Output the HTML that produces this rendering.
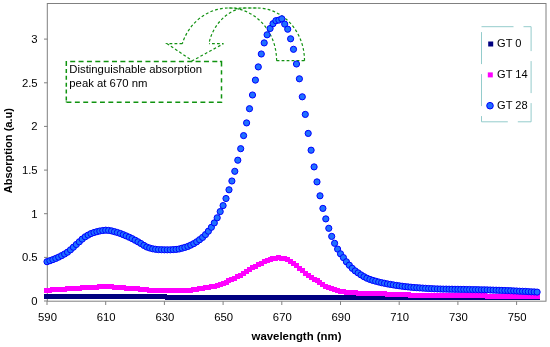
<!DOCTYPE html>
<html><head><meta charset="utf-8"><title>Absorption spectra</title>
<style>
html,body{margin:0;padding:0;background:#fff;}
svg{display:block;font-family:"Liberation Sans",Arial,sans-serif;font-size:11.3px;fill:#000;}
</style></head><body>
<svg width="550" height="347" viewBox="0 0 550 347">
<rect width="550" height="347" fill="#fff"/>
<rect x="47.3" y="3.5" width="498.7" height="297.7" fill="#fff" stroke="#808080" stroke-width="1"/>
<g stroke="#808080" stroke-width="1"><line x1="44" x2="47.5" y1="301.0" y2="301.0"/><line x1="44" x2="47.5" y1="257.4" y2="257.4"/><line x1="44" x2="47.5" y1="213.7" y2="213.7"/><line x1="44" x2="47.5" y1="170.1" y2="170.1"/><line x1="44" x2="47.5" y1="126.4" y2="126.4"/><line x1="44" x2="47.5" y1="82.8" y2="82.8"/><line x1="44" x2="47.5" y1="39.1" y2="39.1"/><line x1="47.0" x2="47.0" y1="301.2" y2="305"/><line x1="105.7" x2="105.7" y1="301.2" y2="305"/><line x1="164.4" x2="164.4" y1="301.2" y2="305"/><line x1="223.1" x2="223.1" y1="301.2" y2="305"/><line x1="281.8" x2="281.8" y1="301.2" y2="305"/><line x1="340.5" x2="340.5" y1="301.2" y2="305"/><line x1="399.2" x2="399.2" y1="301.2" y2="305"/><line x1="457.9" x2="457.9" y1="301.2" y2="305"/><line x1="516.6" x2="516.6" y1="301.2" y2="305"/></g>
<g><text x="37.6" y="305.0" text-anchor="end">0</text><text x="37.6" y="261.4" text-anchor="end">0.5</text><text x="37.6" y="217.7" text-anchor="end">1</text><text x="37.6" y="174.1" text-anchor="end">1.5</text><text x="37.6" y="130.4" text-anchor="end">2</text><text x="37.6" y="86.8" text-anchor="end">2.5</text><text x="37.6" y="43.1" text-anchor="end">3</text><text x="47.5" y="321" text-anchor="middle">590</text><text x="106.2" y="321" text-anchor="middle">610</text><text x="164.9" y="321" text-anchor="middle">630</text><text x="223.6" y="321" text-anchor="middle">650</text><text x="282.3" y="321" text-anchor="middle">670</text><text x="341.0" y="321" text-anchor="middle">690</text><text x="399.7" y="321" text-anchor="middle">710</text><text x="458.4" y="321" text-anchor="middle">730</text><text x="517.1" y="321" text-anchor="middle">750</text></g>
<text x="296.5" y="340.2" text-anchor="middle" font-weight="bold" font-size="11.4px">wavelength (nm)</text>
<text transform="translate(12.3,150.7) rotate(-90)" text-anchor="middle" font-weight="bold" font-size="11.05px">Absorption (a.u)</text>
<g fill="#000080"><rect x="44" y="294.0" width="5" height="5"/><rect x="47" y="294.0" width="5" height="5"/><rect x="50" y="294.0" width="5" height="5"/><rect x="53" y="294.0" width="5" height="5"/><rect x="56" y="294.0" width="5" height="5"/><rect x="59" y="294.0" width="5" height="5"/><rect x="62" y="294.0" width="5" height="5"/><rect x="65" y="294.0" width="5" height="5"/><rect x="68" y="294.0" width="5" height="5"/><rect x="71" y="294.0" width="5" height="5"/><rect x="74" y="294.0" width="5" height="5"/><rect x="77" y="294.0" width="5" height="5"/><rect x="80" y="294.0" width="5" height="5"/><rect x="83" y="294.0" width="5" height="5"/><rect x="86" y="294.0" width="5" height="5"/><rect x="89" y="294.0" width="5" height="5"/><rect x="91" y="294.0" width="5" height="5"/><rect x="94" y="294.0" width="5" height="5"/><rect x="97" y="294.0" width="5" height="5"/><rect x="100" y="294.0" width="5" height="5"/><rect x="103" y="294.0" width="5" height="5"/><rect x="106" y="294.0" width="5" height="5"/><rect x="109" y="294.0" width="5" height="5"/><rect x="112" y="294.0" width="5" height="5"/><rect x="115" y="294.0" width="5" height="5"/><rect x="118" y="294.0" width="5" height="5"/><rect x="121" y="294.0" width="5" height="5"/><rect x="124" y="294.0" width="5" height="5"/><rect x="127" y="294.0" width="5" height="5"/><rect x="130" y="294.0" width="5" height="5"/><rect x="133" y="294.0" width="5" height="5"/><rect x="135" y="294.0" width="5" height="5"/><rect x="138" y="294.0" width="5" height="5"/><rect x="141" y="294.0" width="5" height="5"/><rect x="144" y="294.0" width="5" height="5"/><rect x="147" y="294.0" width="5" height="5"/><rect x="150" y="294.0" width="5" height="5"/><rect x="153" y="294.0" width="5" height="5"/><rect x="156" y="294.0" width="5" height="5"/><rect x="159" y="294.0" width="5" height="5"/><rect x="162" y="294.0" width="5" height="5"/><rect x="165" y="295.0" width="5" height="5"/><rect x="168" y="295.0" width="5" height="5"/><rect x="171" y="295.0" width="5" height="5"/><rect x="174" y="295.0" width="5" height="5"/><rect x="177" y="295.0" width="5" height="5"/><rect x="180" y="295.0" width="5" height="5"/><rect x="182" y="295.0" width="5" height="5"/><rect x="185" y="295.0" width="5" height="5"/><rect x="188" y="295.0" width="5" height="5"/><rect x="191" y="295.0" width="5" height="5"/><rect x="194" y="295.0" width="5" height="5"/><rect x="197" y="295.0" width="5" height="5"/><rect x="200" y="295.0" width="5" height="5"/><rect x="203" y="295.0" width="5" height="5"/><rect x="206" y="295.0" width="5" height="5"/><rect x="209" y="295.0" width="5" height="5"/><rect x="212" y="295.0" width="5" height="5"/><rect x="215" y="295.0" width="5" height="5"/><rect x="218" y="295.0" width="5" height="5"/><rect x="221" y="295.0" width="5" height="5"/><rect x="224" y="295.0" width="5" height="5"/><rect x="226" y="295.0" width="5" height="5"/><rect x="229" y="295.0" width="5" height="5"/><rect x="232" y="295.0" width="5" height="5"/><rect x="235" y="295.0" width="5" height="5"/><rect x="238" y="295.0" width="5" height="5"/><rect x="241" y="295.0" width="5" height="5"/><rect x="244" y="295.0" width="5" height="5"/><rect x="247" y="295.0" width="5" height="5"/><rect x="250" y="295.0" width="5" height="5"/><rect x="253" y="295.0" width="5" height="5"/><rect x="256" y="295.0" width="5" height="5"/><rect x="259" y="295.0" width="5" height="5"/><rect x="262" y="295.0" width="5" height="5"/><rect x="265" y="295.0" width="5" height="5"/><rect x="268" y="295.0" width="5" height="5"/><rect x="270" y="295.0" width="5" height="5"/><rect x="273" y="295.0" width="5" height="5"/><rect x="276" y="295.0" width="5" height="5"/><rect x="279" y="295.0" width="5" height="5"/><rect x="282" y="295.0" width="5" height="5"/><rect x="285" y="295.0" width="5" height="5"/><rect x="288" y="295.0" width="5" height="5"/><rect x="291" y="295.0" width="5" height="5"/><rect x="294" y="295.0" width="5" height="5"/><rect x="297" y="295.0" width="5" height="5"/><rect x="300" y="295.0" width="5" height="5"/><rect x="303" y="295.0" width="5" height="5"/><rect x="306" y="295.0" width="5" height="5"/><rect x="309" y="295.0" width="5" height="5"/><rect x="312" y="295.0" width="5" height="5"/><rect x="315" y="295.0" width="5" height="5"/><rect x="317" y="295.0" width="5" height="5"/><rect x="320" y="295.0" width="5" height="5"/><rect x="323" y="295.0" width="5" height="5"/><rect x="326" y="295.0" width="5" height="5"/><rect x="329" y="295.0" width="5" height="5"/><rect x="332" y="295.0" width="5" height="5"/><rect x="335" y="295.0" width="5" height="5"/><rect x="338" y="295.0" width="5" height="5"/><rect x="341" y="295.0" width="5" height="5"/><rect x="344" y="295.0" width="5" height="5"/><rect x="347" y="295.0" width="5" height="5"/><rect x="350" y="295.0" width="5" height="5"/><rect x="353" y="295.0" width="5" height="5"/><rect x="356" y="295.0" width="5" height="5"/><rect x="359" y="295.0" width="5" height="5"/><rect x="361" y="295.0" width="5" height="5"/><rect x="364" y="295.0" width="5" height="5"/><rect x="367" y="295.0" width="5" height="5"/><rect x="370" y="295.0" width="5" height="5"/><rect x="373" y="295.0" width="5" height="5"/><rect x="376" y="295.0" width="5" height="5"/><rect x="379" y="295.0" width="5" height="5"/><rect x="382" y="295.0" width="5" height="5"/><rect x="385" y="295.0" width="5" height="5"/><rect x="388" y="295.0" width="5" height="5"/><rect x="391" y="295.0" width="5" height="5"/><rect x="394" y="295.0" width="5" height="5"/><rect x="397" y="295.0" width="5" height="5"/><rect x="400" y="295.0" width="5" height="5"/><rect x="403" y="295.0" width="5" height="5"/><rect x="406" y="295.0" width="5" height="5"/><rect x="408" y="295.0" width="5" height="5"/><rect x="411" y="295.0" width="5" height="5"/><rect x="414" y="295.0" width="5" height="5"/><rect x="417" y="295.0" width="5" height="5"/><rect x="420" y="295.0" width="5" height="5"/><rect x="423" y="295.0" width="5" height="5"/><rect x="426" y="295.0" width="5" height="5"/><rect x="429" y="295.0" width="5" height="5"/><rect x="432" y="295.0" width="5" height="5"/><rect x="435" y="295.0" width="5" height="5"/><rect x="438" y="295.0" width="5" height="5"/><rect x="441" y="295.0" width="5" height="5"/><rect x="444" y="295.0" width="5" height="5"/><rect x="447" y="295.0" width="5" height="5"/><rect x="450" y="295.0" width="5" height="5"/><rect x="452" y="295.0" width="5" height="5"/><rect x="455" y="295.0" width="5" height="5"/><rect x="458" y="295.0" width="5" height="5"/><rect x="461" y="295.0" width="5" height="5"/><rect x="464" y="295.0" width="5" height="5"/><rect x="467" y="295.0" width="5" height="5"/><rect x="470" y="295.0" width="5" height="5"/><rect x="473" y="295.0" width="5" height="5"/><rect x="476" y="295.0" width="5" height="5"/><rect x="479" y="295.0" width="5" height="5"/><rect x="482" y="295.0" width="5" height="5"/><rect x="485" y="295.0" width="5" height="5"/><rect x="488" y="295.0" width="5" height="5"/><rect x="491" y="295.0" width="5" height="5"/><rect x="494" y="295.0" width="5" height="5"/><rect x="496" y="295.0" width="5" height="5"/><rect x="499" y="295.0" width="5" height="5"/><rect x="502" y="295.0" width="5" height="5"/><rect x="505" y="295.0" width="5" height="5"/><rect x="508" y="295.0" width="5" height="5"/><rect x="511" y="295.0" width="5" height="5"/><rect x="514" y="295.0" width="5" height="5"/><rect x="517" y="295.0" width="5" height="5"/><rect x="520" y="295.0" width="5" height="5"/><rect x="523" y="295.0" width="5" height="5"/><rect x="526" y="295.0" width="5" height="5"/><rect x="529" y="295.0" width="5" height="5"/><rect x="532" y="295.0" width="5" height="5"/><rect x="535" y="295.0" width="5" height="5"/></g>
<g fill="#ff00ff"><rect x="44" y="288" width="5" height="5"/><rect x="47" y="288" width="5" height="5"/><rect x="50" y="287" width="5" height="5"/><rect x="53" y="287" width="5" height="5"/><rect x="56" y="287" width="5" height="5"/><rect x="59" y="287" width="5" height="5"/><rect x="62" y="287" width="5" height="5"/><rect x="65" y="286" width="5" height="5"/><rect x="68" y="286" width="5" height="5"/><rect x="71" y="286" width="5" height="5"/><rect x="74" y="286" width="5" height="5"/><rect x="77" y="286" width="5" height="5"/><rect x="80" y="285" width="5" height="5"/><rect x="83" y="285" width="5" height="5"/><rect x="86" y="285" width="5" height="5"/><rect x="89" y="285" width="5" height="5"/><rect x="91" y="285" width="5" height="5"/><rect x="94" y="285" width="5" height="5"/><rect x="97" y="284" width="5" height="5"/><rect x="100" y="284" width="5" height="5"/><rect x="103" y="284" width="5" height="5"/><rect x="106" y="284" width="5" height="5"/><rect x="109" y="284" width="5" height="5"/><rect x="112" y="285" width="5" height="5"/><rect x="115" y="285" width="5" height="5"/><rect x="118" y="285" width="5" height="5"/><rect x="121" y="285" width="5" height="5"/><rect x="124" y="286" width="5" height="5"/><rect x="127" y="286" width="5" height="5"/><rect x="130" y="286" width="5" height="5"/><rect x="133" y="286" width="5" height="5"/><rect x="135" y="286" width="5" height="5"/><rect x="138" y="287" width="5" height="5"/><rect x="141" y="287" width="5" height="5"/><rect x="144" y="287" width="5" height="5"/><rect x="147" y="288" width="5" height="5"/><rect x="150" y="288" width="5" height="5"/><rect x="153" y="288" width="5" height="5"/><rect x="156" y="288" width="5" height="5"/><rect x="159" y="288" width="5" height="5"/><rect x="162" y="288" width="5" height="5"/><rect x="165" y="288" width="5" height="5"/><rect x="168" y="288" width="5" height="5"/><rect x="171" y="288" width="5" height="5"/><rect x="174" y="288" width="5" height="5"/><rect x="177" y="288" width="5" height="5"/><rect x="180" y="288" width="5" height="5"/><rect x="182" y="288" width="5" height="5"/><rect x="185" y="288" width="5" height="5"/><rect x="188" y="288" width="5" height="5"/><rect x="191" y="287" width="5" height="5"/><rect x="194" y="287" width="5" height="5"/><rect x="197" y="286" width="5" height="5"/><rect x="200" y="286" width="5" height="5"/><rect x="203" y="285" width="5" height="5"/><rect x="206" y="285" width="5" height="5"/><rect x="209" y="284" width="5" height="5"/><rect x="212" y="284" width="5" height="5"/><rect x="215" y="283" width="5" height="5"/><rect x="218" y="282" width="5" height="5"/><rect x="221" y="281" width="5" height="5"/><rect x="224" y="280" width="5" height="5"/><rect x="226" y="278" width="5" height="5"/><rect x="229" y="277" width="5" height="5"/><rect x="232" y="276" width="5" height="5"/><rect x="235" y="274" width="5" height="5"/><rect x="238" y="273" width="5" height="5"/><rect x="241" y="271" width="5" height="5"/><rect x="244" y="269" width="5" height="5"/><rect x="247" y="267" width="5" height="5"/><rect x="250" y="265" width="5" height="5"/><rect x="253" y="264" width="5" height="5"/><rect x="256" y="262" width="5" height="5"/><rect x="259" y="261" width="5" height="5"/><rect x="262" y="259" width="5" height="5"/><rect x="265" y="258" width="5" height="5"/><rect x="268" y="257" width="5" height="5"/><rect x="270" y="256" width="5" height="5"/><rect x="273" y="256" width="5" height="5"/><rect x="276" y="255" width="5" height="5"/><rect x="279" y="256" width="5" height="5"/><rect x="282" y="256" width="5" height="5"/><rect x="285" y="257" width="5" height="5"/><rect x="288" y="259" width="5" height="5"/><rect x="291" y="261" width="5" height="5"/><rect x="294" y="263" width="5" height="5"/><rect x="297" y="266" width="5" height="5"/><rect x="300" y="268" width="5" height="5"/><rect x="303" y="271" width="5" height="5"/><rect x="306" y="273" width="5" height="5"/><rect x="309" y="275" width="5" height="5"/><rect x="312" y="277" width="5" height="5"/><rect x="315" y="278" width="5" height="5"/><rect x="317" y="280" width="5" height="5"/><rect x="320" y="282" width="5" height="5"/><rect x="323" y="284" width="5" height="5"/><rect x="326" y="285" width="5" height="5"/><rect x="329" y="286" width="5" height="5"/><rect x="332" y="287" width="5" height="5"/><rect x="335" y="288" width="5" height="5"/><rect x="338" y="289" width="5" height="5"/><rect x="341" y="289" width="5" height="5"/><rect x="344" y="290" width="5" height="5"/><rect x="347" y="290" width="5" height="5"/><rect x="350" y="290" width="5" height="5"/><rect x="353" y="290" width="5" height="5"/><rect x="356" y="291" width="5" height="5"/><rect x="359" y="291" width="5" height="5"/><rect x="361" y="291" width="5" height="5"/><rect x="364" y="291" width="5" height="5"/><rect x="367" y="291" width="5" height="5"/><rect x="370" y="291" width="5" height="5"/><rect x="373" y="291" width="5" height="5"/><rect x="376" y="291" width="5" height="5"/><rect x="379" y="291" width="5" height="5"/><rect x="382" y="291" width="5" height="5"/><rect x="385" y="292" width="5" height="5"/><rect x="388" y="292" width="5" height="5"/><rect x="391" y="292" width="5" height="5"/><rect x="394" y="292" width="5" height="5"/><rect x="397" y="292" width="5" height="5"/><rect x="400" y="292" width="5" height="5"/><rect x="403" y="292" width="5" height="5"/><rect x="406" y="292" width="5" height="5"/><rect x="408" y="293" width="5" height="5"/><rect x="411" y="293" width="5" height="5"/><rect x="414" y="293" width="5" height="5"/><rect x="417" y="293" width="5" height="5"/><rect x="420" y="293" width="5" height="5"/><rect x="423" y="293" width="5" height="5"/><rect x="426" y="293" width="5" height="5"/><rect x="429" y="293" width="5" height="5"/><rect x="432" y="293" width="5" height="5"/><rect x="435" y="293" width="5" height="5"/><rect x="438" y="293" width="5" height="5"/><rect x="441" y="293" width="5" height="5"/><rect x="444" y="293" width="5" height="5"/><rect x="447" y="293" width="5" height="5"/><rect x="450" y="293" width="5" height="5"/><rect x="452" y="293" width="5" height="5"/><rect x="455" y="293" width="5" height="5"/><rect x="458" y="293" width="5" height="5"/><rect x="461" y="293" width="5" height="5"/><rect x="464" y="293" width="5" height="5"/><rect x="467" y="293" width="5" height="5"/><rect x="470" y="293" width="5" height="5"/><rect x="473" y="293" width="5" height="5"/><rect x="476" y="293" width="5" height="5"/><rect x="479" y="293" width="5" height="5"/><rect x="482" y="293" width="5" height="5"/><rect x="485" y="294" width="5" height="5"/><rect x="488" y="294" width="5" height="5"/><rect x="491" y="294" width="5" height="5"/><rect x="494" y="294" width="5" height="5"/><rect x="496" y="294" width="5" height="5"/><rect x="499" y="294" width="5" height="5"/><rect x="502" y="294" width="5" height="5"/><rect x="505" y="294" width="5" height="5"/><rect x="508" y="294" width="5" height="5"/><rect x="511" y="294" width="5" height="5"/><rect x="514" y="294" width="5" height="5"/><rect x="517" y="294" width="5" height="5"/><rect x="520" y="294" width="5" height="5"/><rect x="523" y="294" width="5" height="5"/><rect x="526" y="294" width="5" height="5"/><rect x="529" y="294" width="5" height="5"/><rect x="532" y="294" width="5" height="5"/><rect x="535" y="294" width="5" height="5"/></g>
<g fill="none" stroke="#129112" stroke-width="1.2" stroke-dasharray="2.8 2.2">
<path d="M304.5 60.7 A47.55 52.7 0 0 0 256.95 8 H246 C228 8 212 26 209 43.7"/>
<path d="M276.6 60.7 A47.55 52.7 0 0 0 228.75 8 A49.07 52.7 0 0 0 182.3 43.7"/>
<path d="M228.75 8 H256.95 M276.6 60.7 H304.5"/>
<path d="M182.3 43.7 H167 L192.5 60.7 L223.5 43.7 H209"/>
</g>
<g fill="#1f70ff" stroke="#0000ff" stroke-width="1"><circle cx="47.0" cy="261.7" r="3.1"/><circle cx="49.9" cy="260.7" r="3.1"/><circle cx="52.9" cy="259.6" r="3.1"/><circle cx="55.8" cy="258.4" r="3.1"/><circle cx="58.7" cy="257.1" r="3.1"/><circle cx="61.7" cy="255.6" r="3.1"/><circle cx="64.6" cy="254.0" r="3.1"/><circle cx="67.5" cy="252.2" r="3.1"/><circle cx="70.5" cy="249.8" r="3.1"/><circle cx="73.4" cy="247.2" r="3.1"/><circle cx="76.3" cy="244.5" r="3.1"/><circle cx="79.3" cy="241.8" r="3.1"/><circle cx="82.2" cy="239.1" r="3.1"/><circle cx="85.2" cy="236.8" r="3.1"/><circle cx="88.1" cy="235.1" r="3.1"/><circle cx="91.0" cy="233.6" r="3.1"/><circle cx="94.0" cy="232.5" r="3.1"/><circle cx="96.9" cy="231.7" r="3.1"/><circle cx="99.8" cy="231.0" r="3.1"/><circle cx="102.8" cy="230.5" r="3.1"/><circle cx="105.7" cy="230.2" r="3.1"/><circle cx="108.6" cy="230.4" r="3.1"/><circle cx="111.6" cy="230.9" r="3.1"/><circle cx="114.5" cy="231.7" r="3.1"/><circle cx="117.4" cy="232.5" r="3.1"/><circle cx="120.4" cy="233.5" r="3.1"/><circle cx="123.3" cy="234.7" r="3.1"/><circle cx="126.2" cy="235.9" r="3.1"/><circle cx="129.2" cy="237.2" r="3.1"/><circle cx="132.1" cy="238.6" r="3.1"/><circle cx="135.1" cy="240.2" r="3.1"/><circle cx="138.0" cy="241.8" r="3.1"/><circle cx="140.9" cy="243.5" r="3.1"/><circle cx="143.9" cy="245.4" r="3.1"/><circle cx="146.8" cy="247.0" r="3.1"/><circle cx="149.7" cy="248.0" r="3.1"/><circle cx="152.7" cy="248.8" r="3.1"/><circle cx="155.6" cy="249.3" r="3.1"/><circle cx="158.5" cy="249.6" r="3.1"/><circle cx="161.5" cy="249.7" r="3.1"/><circle cx="164.4" cy="249.8" r="3.1"/><circle cx="167.3" cy="249.8" r="3.1"/><circle cx="170.3" cy="249.8" r="3.1"/><circle cx="173.2" cy="249.6" r="3.1"/><circle cx="176.1" cy="249.4" r="3.1"/><circle cx="179.1" cy="249.0" r="3.1"/><circle cx="182.0" cy="248.2" r="3.1"/><circle cx="184.9" cy="247.4" r="3.1"/><circle cx="187.9" cy="246.4" r="3.1"/><circle cx="190.8" cy="245.1" r="3.1"/><circle cx="193.8" cy="243.6" r="3.1"/><circle cx="196.7" cy="241.8" r="3.1"/><circle cx="199.6" cy="239.7" r="3.1"/><circle cx="202.6" cy="237.4" r="3.1"/><circle cx="205.5" cy="234.6" r="3.1"/><circle cx="208.4" cy="231.2" r="3.1"/><circle cx="211.4" cy="227.3" r="3.1"/><circle cx="214.3" cy="222.9" r="3.1"/><circle cx="217.2" cy="217.8" r="3.1"/><circle cx="220.2" cy="211.6" r="3.1"/><circle cx="223.1" cy="205.6" r="3.1"/><circle cx="226.0" cy="198.5" r="3.1"/><circle cx="229.0" cy="189.8" r="3.1"/><circle cx="231.9" cy="181.0" r="3.1"/><circle cx="234.8" cy="171.3" r="3.1"/><circle cx="237.8" cy="160.2" r="3.1"/><circle cx="240.7" cy="148.7" r="3.1"/><circle cx="243.6" cy="135.6" r="3.1"/><circle cx="246.6" cy="122.9" r="3.1"/><circle cx="249.5" cy="108.7" r="3.1"/><circle cx="252.5" cy="95.0" r="3.1"/><circle cx="255.4" cy="80.1" r="3.1"/><circle cx="258.3" cy="66.9" r="3.1"/><circle cx="261.3" cy="54.0" r="3.1"/><circle cx="264.2" cy="42.9" r="3.1"/><circle cx="267.1" cy="34.8" r="3.1"/><circle cx="270.1" cy="28.5" r="3.1"/><circle cx="273.0" cy="23.7" r="3.1"/><circle cx="275.9" cy="20.7" r="3.1"/><circle cx="278.9" cy="20.1" r="3.1"/><circle cx="281.8" cy="18.8" r="3.1"/><circle cx="284.7" cy="24.1" r="3.1"/><circle cx="287.7" cy="29.2" r="3.1"/><circle cx="290.6" cy="38.8" r="3.1"/><circle cx="293.5" cy="49.3" r="3.1"/><circle cx="296.5" cy="64.0" r="3.1"/><circle cx="299.4" cy="78.8" r="3.1"/><circle cx="302.3" cy="96.8" r="3.1"/><circle cx="305.3" cy="114.4" r="3.1"/><circle cx="308.2" cy="133.4" r="3.1"/><circle cx="311.1" cy="150.2" r="3.1"/><circle cx="314.1" cy="166.9" r="3.1"/><circle cx="317.0" cy="181.9" r="3.1"/><circle cx="320.0" cy="195.8" r="3.1"/><circle cx="322.9" cy="208.4" r="3.1"/><circle cx="325.8" cy="218.9" r="3.1"/><circle cx="328.8" cy="228.3" r="3.1"/><circle cx="331.7" cy="236.4" r="3.1"/><circle cx="334.6" cy="243.3" r="3.1"/><circle cx="337.6" cy="249.1" r="3.1"/><circle cx="340.5" cy="253.8" r="3.1"/><circle cx="343.4" cy="257.6" r="3.1"/><circle cx="346.4" cy="261.8" r="3.1"/><circle cx="349.3" cy="265.2" r="3.1"/><circle cx="352.2" cy="268.3" r="3.1"/><circle cx="355.2" cy="270.9" r="3.1"/><circle cx="358.1" cy="272.9" r="3.1"/><circle cx="361.0" cy="274.9" r="3.1"/><circle cx="364.0" cy="276.7" r="3.1"/><circle cx="366.9" cy="278.2" r="3.1"/><circle cx="369.9" cy="279.4" r="3.1"/><circle cx="372.8" cy="280.4" r="3.1"/><circle cx="375.7" cy="281.2" r="3.1"/><circle cx="378.7" cy="282.0" r="3.1"/><circle cx="381.6" cy="282.7" r="3.1"/><circle cx="384.5" cy="283.3" r="3.1"/><circle cx="387.5" cy="283.9" r="3.1"/><circle cx="390.4" cy="284.4" r="3.1"/><circle cx="393.3" cy="284.9" r="3.1"/><circle cx="396.3" cy="285.4" r="3.1"/><circle cx="399.2" cy="285.8" r="3.1"/><circle cx="402.1" cy="286.2" r="3.1"/><circle cx="405.1" cy="286.6" r="3.1"/><circle cx="408.0" cy="286.9" r="3.1"/><circle cx="410.9" cy="287.2" r="3.1"/><circle cx="413.9" cy="287.5" r="3.1"/><circle cx="416.8" cy="287.7" r="3.1"/><circle cx="419.7" cy="287.9" r="3.1"/><circle cx="422.7" cy="288.1" r="3.1"/><circle cx="425.6" cy="288.3" r="3.1"/><circle cx="428.6" cy="288.5" r="3.1"/><circle cx="431.5" cy="288.6" r="3.1"/><circle cx="434.4" cy="288.8" r="3.1"/><circle cx="437.4" cy="288.9" r="3.1"/><circle cx="440.3" cy="289.0" r="3.1"/><circle cx="443.2" cy="289.1" r="3.1"/><circle cx="446.2" cy="289.1" r="3.1"/><circle cx="449.1" cy="289.2" r="3.1"/><circle cx="452.0" cy="289.2" r="3.1"/><circle cx="455.0" cy="289.3" r="3.1"/><circle cx="457.9" cy="289.3" r="3.1"/><circle cx="460.8" cy="289.4" r="3.1"/><circle cx="463.8" cy="289.4" r="3.1"/><circle cx="466.7" cy="289.5" r="3.1"/><circle cx="469.6" cy="289.5" r="3.1"/><circle cx="472.6" cy="289.6" r="3.1"/><circle cx="475.5" cy="289.6" r="3.1"/><circle cx="478.4" cy="289.7" r="3.1"/><circle cx="481.4" cy="289.8" r="3.1"/><circle cx="484.3" cy="289.8" r="3.1"/><circle cx="487.2" cy="289.9" r="3.1"/><circle cx="490.2" cy="290.0" r="3.1"/><circle cx="493.1" cy="290.1" r="3.1"/><circle cx="496.1" cy="290.2" r="3.1"/><circle cx="499.0" cy="290.3" r="3.1"/><circle cx="501.9" cy="290.4" r="3.1"/><circle cx="504.9" cy="290.5" r="3.1"/><circle cx="507.8" cy="290.6" r="3.1"/><circle cx="510.7" cy="290.7" r="3.1"/><circle cx="513.7" cy="290.9" r="3.1"/><circle cx="516.6" cy="291.0" r="3.1"/><circle cx="519.5" cy="291.2" r="3.1"/><circle cx="522.5" cy="291.3" r="3.1"/><circle cx="525.4" cy="291.4" r="3.1"/><circle cx="528.3" cy="291.6" r="3.1"/><circle cx="531.3" cy="291.8" r="3.1"/><circle cx="534.2" cy="291.9" r="3.1"/><circle cx="537.1" cy="292.1" r="3.1"/></g>
<g fill="none" stroke="#109310" stroke-width="1.5">
<path d="M70.2 61.5 H219" stroke-dasharray="5 3.36"/>
<path d="M219.9 61.5 H221.5 V66.6 M221.5 101.8 V102.3 H217.1 M66.3 102.3 V101.4 M66.3 61 V66"/>
<path d="M221.5 70.2 V99" stroke-dasharray="4.4 3.6"/>
<path d="M213.7 102.3 H66.3" stroke-dasharray="4.9 3.47"/>
<path d="M66.3 68.9 V101" stroke-dasharray="4 2.9"/>
</g>
<text x="69.3" y="72.8" font-size="11.33px">Distinguishable absorption</text>
<text x="69.3" y="87.4" font-size="11.33px">peak at 670 nm</text>
<rect x="481.5" y="26.7" width="49.6" height="95.1" fill="none" stroke="#94cccc" stroke-width="1" stroke-dasharray="32 10"/>
<rect x="488.2" y="41.5" width="5" height="5" fill="#000080"/>
<rect x="487.8" y="72.4" width="5" height="5" fill="#ff00ff"/>
<circle cx="490" cy="105.7" r="3.3" fill="#1f6bff" stroke="#0000ff" stroke-width="1"/>
<text x="497" y="47" font-size="11.1px">GT 0</text>
<text x="497" y="77.8" font-size="11.1px">GT 14</text>
<text x="497" y="109" font-size="11.1px">GT 28</text>
</svg>
</body></html>
